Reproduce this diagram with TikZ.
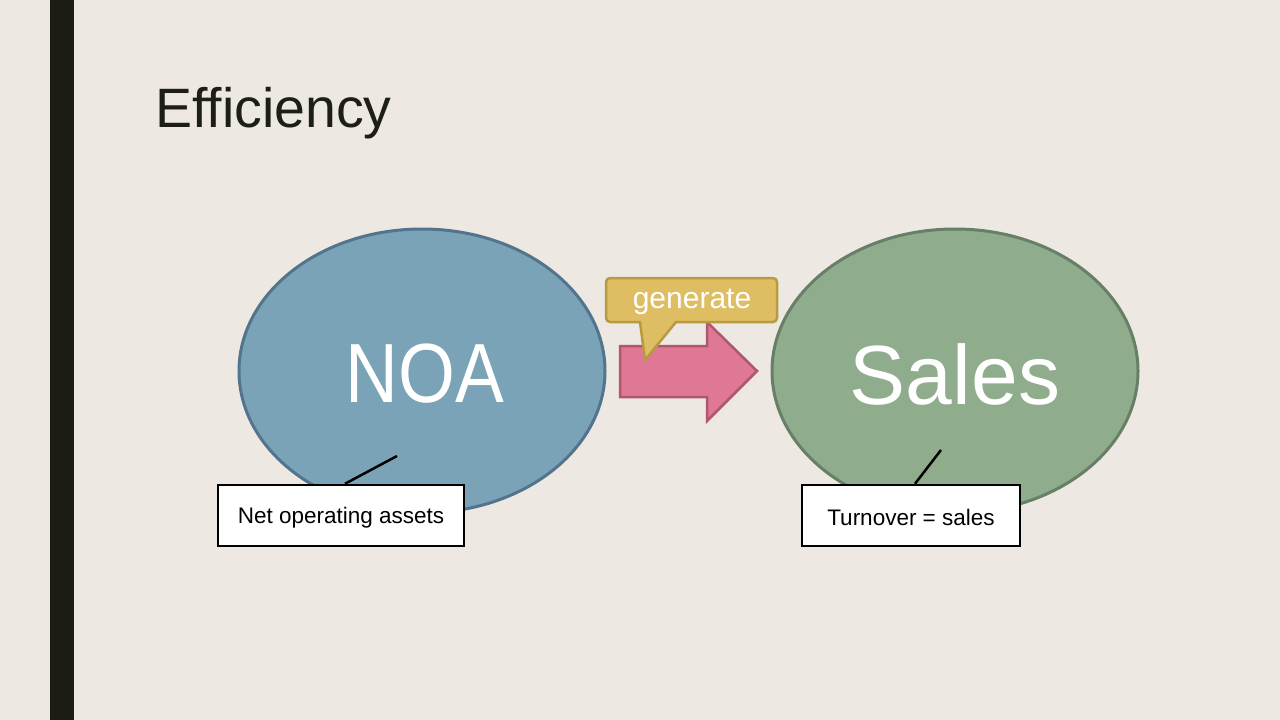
\documentclass[tikz,border=0pt]{standalone}
\usepackage{fontspec}
\setmainfont{Liberation Sans}
\definecolor{bg}{HTML}{EDE9E2}
\definecolor{barc}{HTML}{1C1C14}
\definecolor{titlec}{HTML}{1E1E18}
\definecolor{bluef}{HTML}{7BA3B8}
\definecolor{blued}{HTML}{52748C}
\definecolor{greenf}{HTML}{8FAC8C}
\definecolor{greend}{HTML}{667F66}
\definecolor{pinkf}{HTML}{DE7895}
\definecolor{pinkd}{HTML}{B0566F}
\definecolor{goldf}{HTML}{DFBE63}
\definecolor{goldd}{HTML}{B89A42}
\tikzset{
  bubble/.style={ellipse, line width=3pt, minimum width=366pt, minimum height=284pt, inner sep=0pt},
  bigtext/.style={text=white, font=\fontsize{84}{84}\selectfont},
  labelbox/.style={draw=black, fill=white, line width=2.5pt, inner sep=0pt, font=\fontsize{22.5}{26}\selectfont},
  leader/.style={draw=black, line width=2.5pt}
}
\usetikzlibrary{shapes.geometric}
\begin{document}
\begin{tikzpicture}[x=1pt,y=-1pt]
\useasboundingbox (0,0) rectangle (1280,720);
\fill[bg] (0,0) rectangle (1280,720);
\fill[barc] (50,0) rectangle (74,720);
\node[anchor=base west, inner sep=0pt, text=titlec, font=\fontsize{55.5}{60}\selectfont] (title) at (155,127) {Efficiency};

\node[bubble, fill=bluef, draw=blued] (noa) at (422,371) {};
\node[bigtext] (noatext) at (425,374) {\scalebox{0.87}[1]{NOA}};
\node[bubble, fill=greenf, draw=greend] (sales) at (955,371) {};
\node[bigtext] (salestext) at (955,374) {Sales};

% arrow
\draw[fill=pinkf, draw=pinkd, line width=2.5pt, line join=miter]
  (620,346) -- (707,346) -- (707,322) -- (757,371) -- (707,421) -- (707,397) -- (620,397) -- cycle;
\coordinate (arrowtip) at (757,371);

% callout
\draw[fill=goldf, draw=goldd, line width=2.5pt, line join=round]
  (645,360) -- (640,322) [rounded corners=4pt] -- (606,322) -- (606,278) -- (777,278) -- (777,322) [sharp corners] -- (676,322) -- cycle;
\node[text=white, font=\fontsize{30}{32}\selectfont] (gen) at (692,302) {generate};

% label boxes
\node[labelbox, minimum width=246pt, minimum height=61pt] (netbox) at (341,515.5) {};
\node[font=\fontsize{22.5}{26}\selectfont] (nettext) at (341,517.5) {Net operating assets};
\node[labelbox, minimum width=218pt, minimum height=61pt] (turnbox) at (911,515.5) {};
\node[font=\fontsize{22.5}{26}\selectfont] (turntext) at (911,517.5) {Turnover = sales};
\coordinate (noaend) at (397,456);
\coordinate (salesend) at (941,450);
\draw[leader] (netbox.north -| 345,0) -- (noaend);
\draw[leader] (turnbox.north -| 915,0) -- (salesend);
\end{tikzpicture}
\end{document}
